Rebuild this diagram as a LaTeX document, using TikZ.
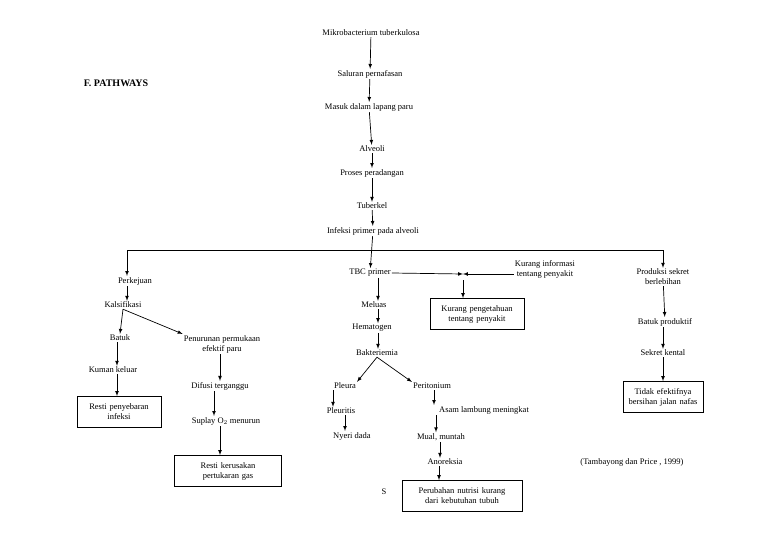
\documentclass[tikz,border=0pt]{standalone}
\usepackage{fontspec}
\setmainfont{Liberation Serif}
\begin{document}
\begin{tikzpicture}[x=1pt,y=1pt,yscale=-1,
  txt/.style={inner sep=1pt,align=center,font=\fontsize{8.5}{10}\selectfont},
  kotak/.style={txt,draw,line width=0.8pt,minimum height=31pt,text width=#1},
  panah/.style={-latex,line width=0.7pt}]
\useasboundingbox (0,0) rectangle (768,543);

% Text Node
\node[txt,font=\fontsize{10}{12}\selectfont\bfseries] (judul) at (116,83) {F. PATHWAYS};
\node[txt] (mikro) at (371,33) {Mikrobacterium tuberkulosa};
\node[txt] (saluran) at (370,74) {Saluran pernafasan};
\node[txt] (masuk) at (369,107) {Masuk dalam lapang paru};
\node[txt] (alveoli) at (372,149) {Alveoli};
\node[txt] (proses) at (372,173) {Proses peradangan};
\node[txt] (tuberkel) at (372,206) {Tuberkel};
\node[txt] (infeksi) at (373,231) {Infeksi primer pada alveoli};

% left branch
\node[txt] (kejuan) at (135,281) {Perkejuan};
\node[txt] (kalsi) at (123,305) {Kalsifikasi};
\node[txt] (batuk) at (120,338) {Batuk};
\node[txt] (turun) at (222,344) {Penurunan permukaan\\efektif paru};
\node[txt] (kuman) at (113,370) {Kuman keluar};
\node[kotak=82pt] (resti1) at (119,412) {Resti penyebaran\\infeksi};
\node[txt] (difusi) at (220,386) {Difusi terganggu};
\node[txt] (suplay) at (226,421) {Suplay O$_2$ menurun};
\node[kotak=105pt] (resti2) at (228,471) {Resti kerusakan\\pertukaran gas};

% middle branch
\node[txt] (tbc) at (370,273) {TBC primer};
\node[txt] (info) at (545,269) {Kurang informasi\\tentang penyakit};
\coordinate (temu) at (463,274);
\node[kotak=92pt] (tahu) at (477,314) {Kurang pengetahuan\\tentang penyakit};
\node[txt] (meluas) at (374,305) {Meluas};
\node[txt] (hemato) at (372,328) {Hematogen};
\node[txt] (bakteri) at (377,353) {Bakteriemia};
\node[txt] (pleura) at (345,386) {Pleura};
\node[txt] (perito) at (432,386) {Peritonium};
\node[txt] (pleuritis) at (341,411) {Pleuritis};
\node[txt] (nyeri) at (352,436) {Nyeri dada};
\node[txt] (asam) at (484,410) {Asam lambung meningkat};
\node[txt] (mual) at (441,437) {Mual, muntah};
\node[txt] (anor) at (445,462) {Anoreksia};
\node[kotak=118pt] (nutrisi) at (462,496) {Perubahan nutrisi kurang\\dari kebutuhan tubuh};
\node[txt] (es) at (384,492) {S};

% right branch
\node[txt] (sekret) at (663,277) {Produksi sekret\\berlebihan};
\node[txt] (produktif) at (665,322) {Batuk produktif};
\node[txt] (kental) at (663,353) {Sekret kental};
\node[kotak=78pt] (nafas) at (663,397) {Tidak efektifnya\\bersihan jalan nafas};
\node[txt] (sumber) at (632,462) {(Tambayong dan Price , 1999)};

% Straight Lines
\draw[panah] (mikro) -- (saluran);
\draw[panah] (saluran) -- (masuk);
\draw[panah] (masuk) -- (alveoli);
\draw[panah] (alveoli) -- (proses);
\draw[panah] (proses) -- (tuberkel);
\draw[panah] (tuberkel) -- (infeksi);
\draw[line width=0.7pt] (127,250) -- (663,250);
\draw[panah] (infeksi) -- (tbc);
\draw[panah] (127,250) -- (kejuan.north -| 127,0);
\draw[panah] (663,250) -- (sekret);

\draw[panah] (kejuan.south -| 127,0) -- (kalsi.north -| 127,0);
\draw[panah] (kalsi.south) -- (batuk.north);
\draw[panah] (kalsi.south) -- (turun.north west);
\draw[panah] (batuk.south -| 117,0) -- (kuman.north -| 117,0);
\draw[panah] (kuman.south -| 117,0) -- (resti1.north -| 117,0);
\draw[panah] (turun.south -| 220,0) -- (difusi.north -| 220,0);
\draw[panah] (difusi.south -| 214,0) -- (suplay.north -| 214,0);
\draw[panah] (suplay.south -| 220,0) -- (resti2.north -| 220,0);

\draw[panah] (tbc.east) -- (temu);
\draw[panah] (info.west |- temu) -- (temu);
\draw[panah] (temu |- tahu.north) ++(0,-18) -- (tahu.north -| temu);
\draw[panah] (tbc.south -| 378,0) -- (meluas.north -| 378,0);
\draw[panah] (meluas.south -| 378,0) -- (hemato.north -| 378,0);
\draw[panah] (hemato.south -| 378,0) -- (bakteri.north -| 378,0);
\draw[panah] (bakteri.south) -- (pleura.north east);
\draw[panah] (bakteri.south) -- (perito.north west);
\draw[panah] (pleura.south -| 333,0) -- (pleuritis.north -| 333,0);
\draw[panah] (pleuritis.south -| 345,0) -- (nyeri.north -| 345,0);
\draw[panah] (perito.south -| 434,0) -- (asam.north -| 434,0);
\draw[panah] (asam.south -| 436,0) -- (mual.north -| 436,0);
\draw[panah] (mual.south -| 440,0) -- (anor.north -| 440,0);
\draw[panah] (anor.south -| 439,0) -- (nutrisi.north -| 439,0);

\draw[panah] (sekret) -- (produktif);
\draw[panah] (produktif.south -| 663,0) -- (kental.north -| 663,0);
\draw[panah] (kental.south -| 663,0) -- (nafas.north);
\end{tikzpicture}
\end{document}
